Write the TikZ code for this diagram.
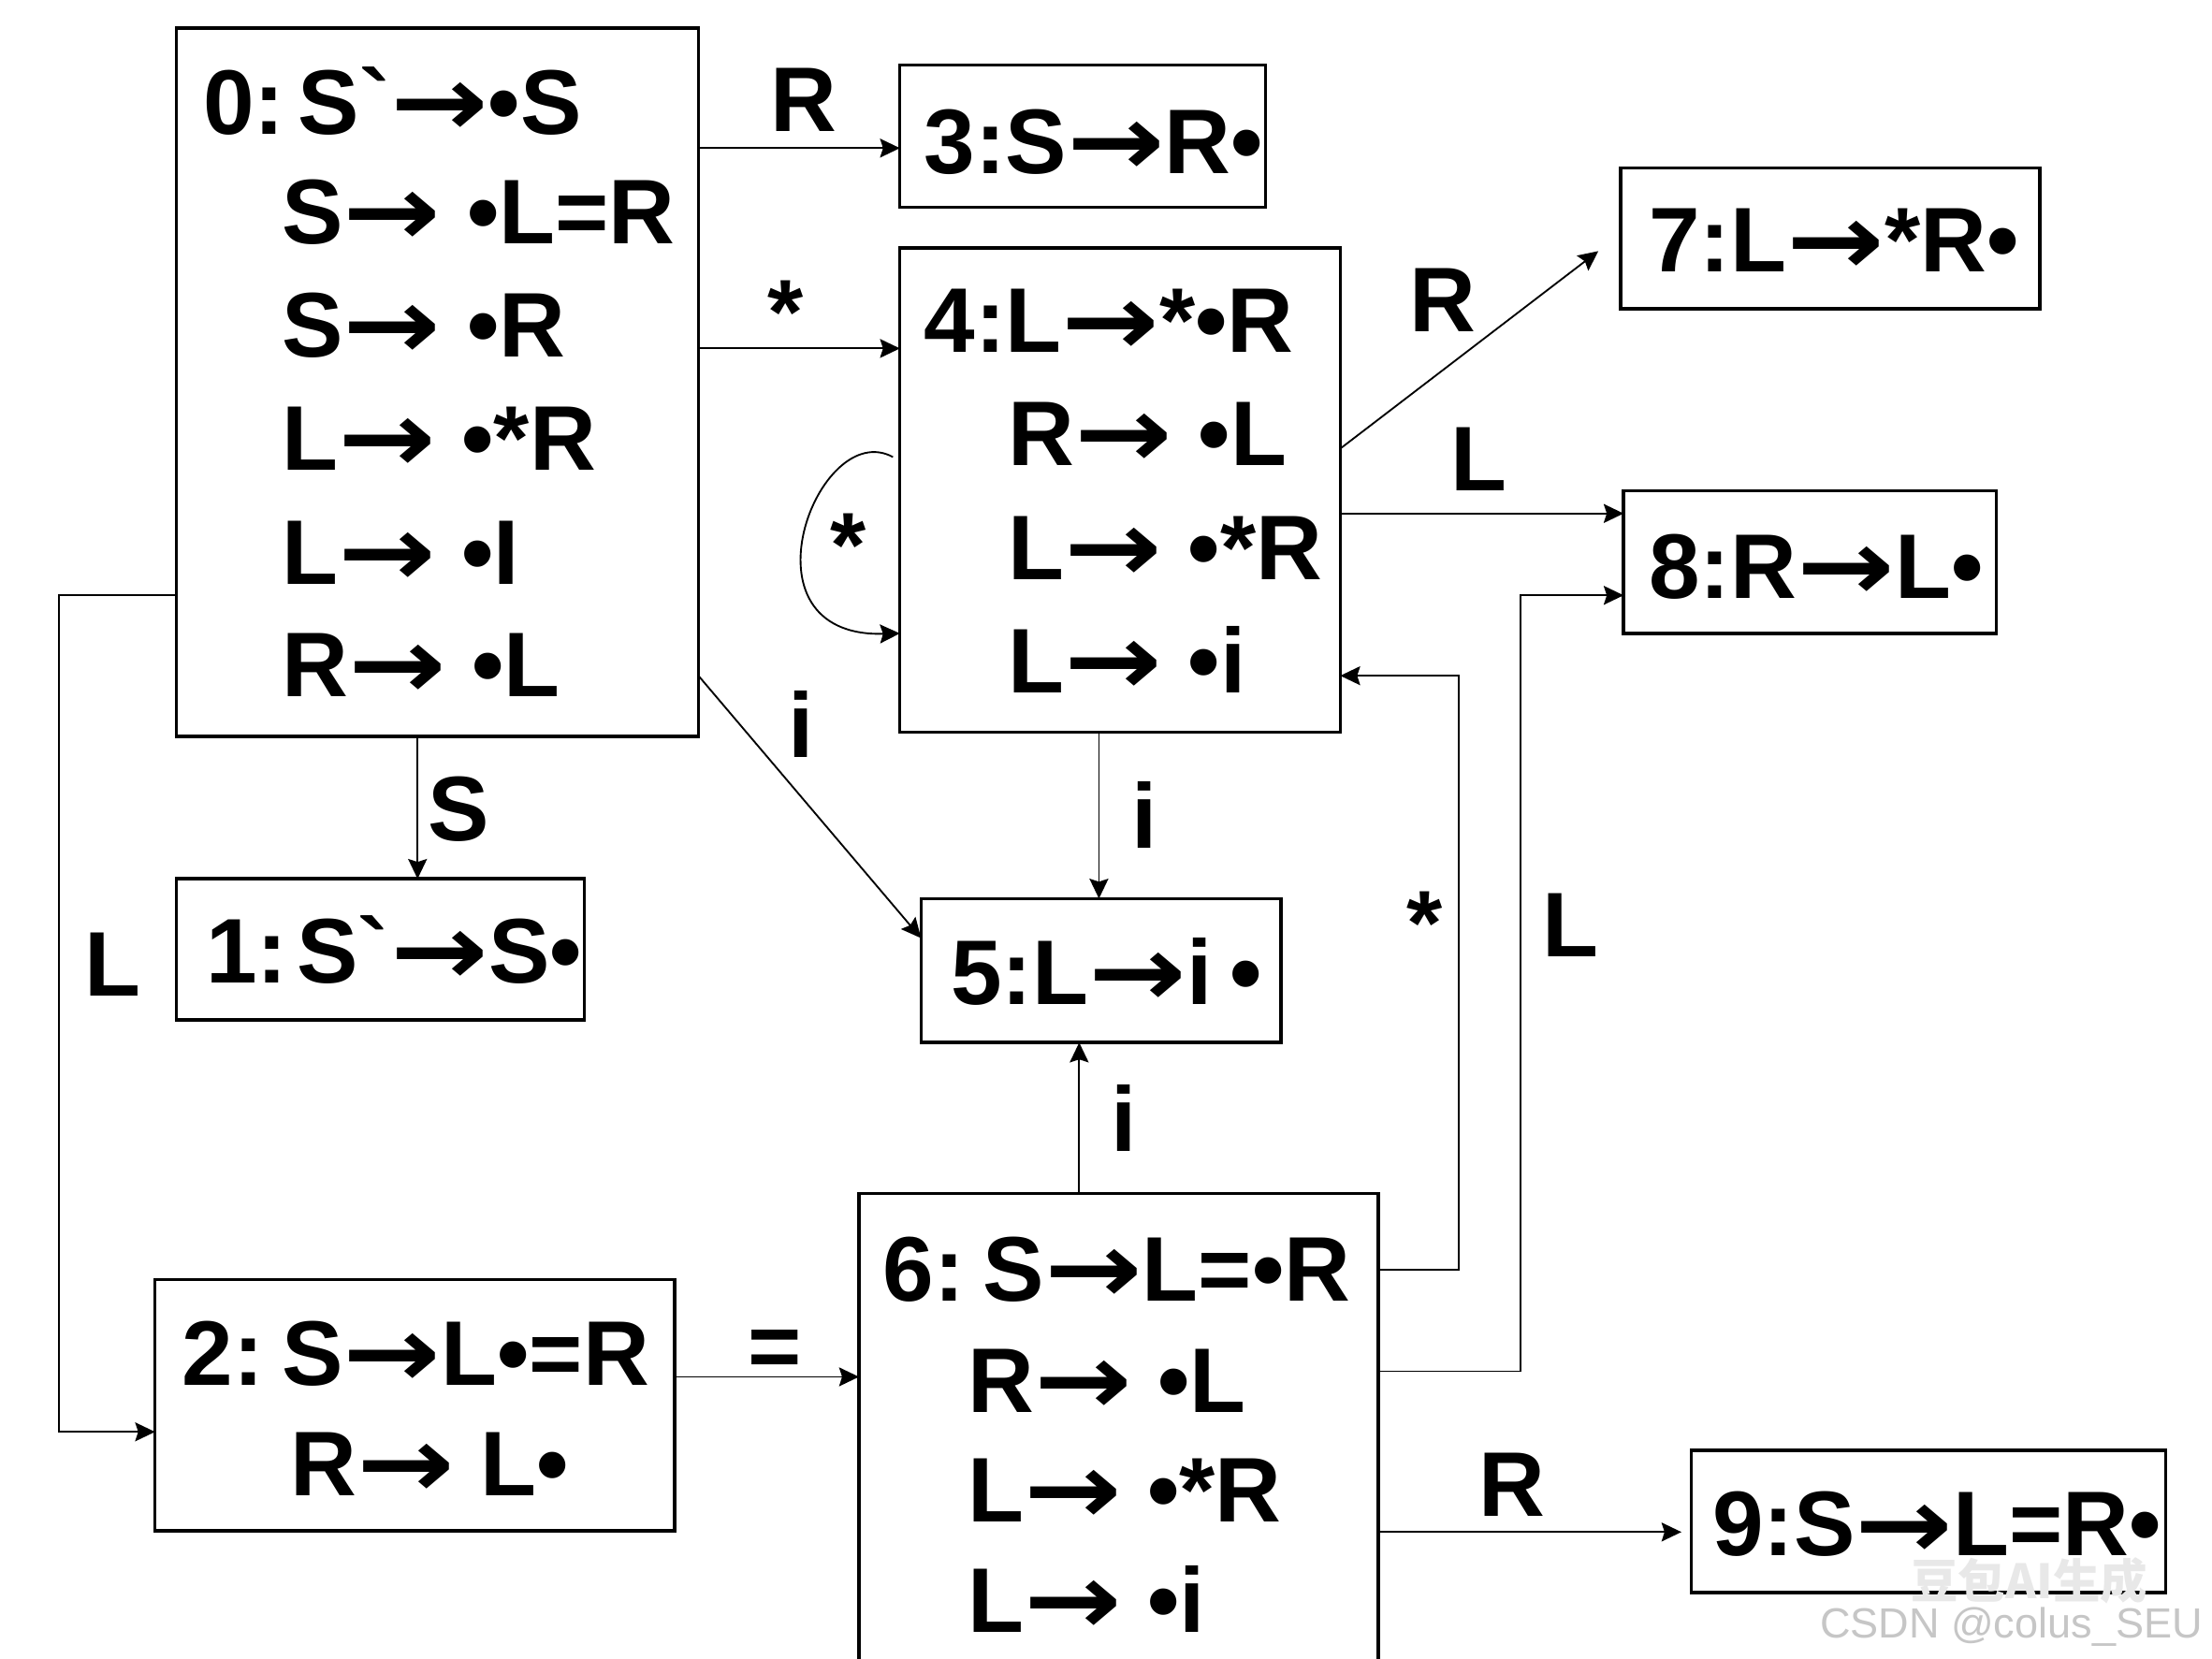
\documentclass[tikz,border=0pt]{standalone}
\usepackage{fontspec}
\newfontfamily\lib{Liberation Sans}
\newfontfamily\dvs{DejaVu Sans}
\newfontfamily\cjk{Noto Sans CJK SC}
\usetikzlibrary{arrows.meta,calc}
\newcommand\arw{{\dvs\bfseries\fontsize{20}{22}\selectfont\raisebox{-0.02em}{\scalebox{1.18}[1]{→}}}}
\begin{document}
\begin{tikzpicture}[x=0.01cm,y=-0.01cm,
  box/.style={draw,line width=0.65pt,inner sep=0pt,outer sep=0pt},
  txt/.style={anchor=base west,inner sep=0pt,outer sep=0pt,font=\lib\bfseries\fontsize{18.5}{22}\selectfont},
  lbl/.style={anchor=base,inner sep=0pt,outer sep=0pt,font=\lib\bfseries\fontsize{18.5}{22}\selectfont},
  arr/.style={line width=0.35pt,-{Stealth[length=4pt,width=3.8pt,inset=0.6pt]}},
]
\useasboundingbox[fill=white] (0,0) rectangle (1568,1176);

% boxes
\node[box,minimum width=3.70cm,minimum height=5.02cm] (b0) at (310,271) {};
\node[box,minimum width=2.59cm,minimum height=1.01cm] (b3) at (767.5,96.5) {};
\node[box,minimum width=3.12cm,minimum height=3.43cm] (b4) at (794,347.5) {};
\node[box,minimum width=2.97cm,minimum height=1.00cm] (b7) at (1297.5,169) {};
\node[box,minimum width=2.64cm,minimum height=1.01cm] (b8) at (1283,398.5) {};
\node[box,minimum width=2.89cm,minimum height=1.00cm] (b1) at (269.5,673) {};
\node[box,minimum width=2.55cm,minimum height=1.02cm] (b5) at (780.5,688) {};
\node[box,minimum width=3.68cm,minimum height=1.78cm] (b2) at (294,996) {};
\node[box,minimum width=3.68cm,minimum height=3.54cm] (b6) at (793,1023) {};
\node[box,minimum width=3.36cm,minimum height=1.01cm] (b9) at (1367,1078.5) {};

% box texts
\node[txt] (t0a) at (144,95) {0:\hspace{0.15em}S`\arw•S};
\node[txt] (t0b) at (200,173) {S\arw\ •L=R};
\node[txt] (t0c) at (200,253) {S\arw\ •R};
\node[txt] (t0d) at (200,333) {L\arw\ •*R};
\node[txt] (t0e) at (200,414) {L\arw\ •I};
\node[txt] (t0f) at (200,494) {R\arw\ •L};

\node[txt] (t3) at (655,123) {3:S\arw R•};

\node[txt] (t4a) at (655,250) {4:L\arw*•R};
\node[txt] (t4b) at (715,330) {R\arw\ •L};
\node[txt] (t4c) at (715,411) {L\arw\ •*R};
\node[txt] (t4d) at (715,491) {L\arw\ •i};

\node[txt] (t7) at (1169,193) {7:L\arw*R•};
\node[txt] (t8) at (1169,424) {8:R\arw L•};
\node[txt] (t1) at (146,697) {1:\hspace{0.1em}S`\hspace{0.02em}\arw S•};
\node[txt] (t5) at (674,712) {5:L\arw i\hspace{0.2em}•};

\node[txt] (t2a) at (129,982) {2:\hspace{0.2em}S\arw L•=R};
\node[txt] (t2b) at (206,1060) {R\arw\ L•};

\node[txt] (t6a) at (626,922) {6:\hspace{0.2em}S\arw L=•R};
\node[txt] (t6b) at (686,1001) {R\arw\ •L};
\node[txt] (t6c) at (686,1079) {L\arw\ •*R};
\node[txt] (t6d) at (686,1157) {L\arw\ •i};

\node[txt] (t9) at (1214,1103) {9:S\arw L=R•};

% connectors
\coordinate (ls) at (633,324);
\coordinate (e7) at (1133,178);
\draw[arr] (b0.east |- 0,105) -- (b3.west |- 0,105);
\draw[arr] (b0.east |- 0,247) -- (b4.west |- 0,247);
\draw[arr] (b0.east |- 0,479) -- (b5.west |- 0,665);
\draw[arr] (b0.south -| 296,0) -- (b1.north -| 296,0);
\draw[arr] (b0.west |- 0,422) -- ++(-83,0) |- (b2.west |- 0,1015);
\draw[arr] (ls) .. controls (580,295) and (520,452) .. (b4.west |- 0,449);
\draw[arr] (b4.east |- 0,318) -- (e7);
\draw[arr] (b4.east |- 0,364) -- (b8.west |- 0,364);
\draw[arr] (b4.south -| 779,0) -- (b5.north -| 779,0);
\draw[arr] (b2.east |- 0,976) -- (b6.west |- 0,976);
\draw[arr] (b6.north -| 765,0) -- (b5.south -| 765,0);
\draw[arr] (b6.east |- 0,900) -- ++(57,0) |- (b4.east |- 0,479);
\draw[arr] (b6.east |- 0,972) -- ++(101,0) |- (b8.west |- 0,422);
\draw[arr,shorten >=0.07cm] (b6.east |- 0,1086) -- (b9.west |- 0,1086);

% connector labels
\node[lbl] (l03) at (570,93) {R};
\node[lbl] (l04) at (557,244) {*};
\node[lbl] (l05) at (568,537) {i};
\node[lbl] (l01) at (325,596) {S};
\node[lbl] (l02) at (80,706) {L};
\node[lbl] (l44) at (601,409) {*};
\node[lbl] (l47) at (1023,235) {R};
\node[lbl] (l48) at (1048,348) {L};
\node[lbl] (l45) at (811,601) {i};
\node[lbl] (l26) at (549,977) {=};
\node[lbl] (l65) at (797,816) {i};
\node[lbl] (l64) at (1010,677) {*};
\node[lbl] (l68) at (1113,678) {L};
\node[lbl] (l69) at (1072,1075) {R};

% watermark
\node[anchor=base west,inner sep=0pt,font=\cjk\bfseries\fontsize{9.5}{11}\selectfont,text=gray!18] (wm1) at (1354,1133) {豆包AI生成};
\node[anchor=base east,inner sep=0pt,font=\lib\fontsize{8.5}{10}\selectfont,text=gray!45] (wm2) at (1562,1161) {CSDN @colus\_SEU};
\end{tikzpicture}
\end{document}
